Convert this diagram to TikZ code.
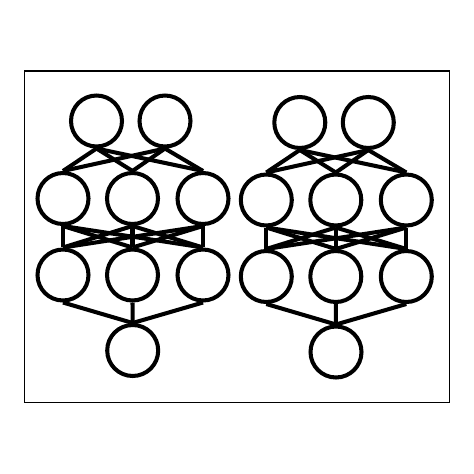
\documentclass[tikz,border=0pt]{standalone}
\usepackage{tikz}
\usetikzlibrary{calc}
\def\netsep{203.3}

\begin{document}
\begin{tikzpicture}[x=0.02cm,y=-0.02cm]
    \tikzstyle{neuron}=[circle,draw=black,fill=white,minimum size=1.02cm,inner sep=0pt,line width=2.3pt]
    \tikzstyle{link}=[line width=2.3pt]
    \tikzstyle{frame}=[line width=0.75pt]

    \useasboundingbox (0,0) rectangle (474,474);
    \draw[frame] (24.3,71) rectangle (449.5,402.5);

    \foreach \net / \dx / \dy in {A/0/0,B/\netsep/1.5}
    {
        % Draw the input layer nodes
        \foreach \name / \x in {1/96.5,2/165}
            \path node[neuron] (\net-I-\name) at (\x+\dx,121+\dy) {};

        % Draw the hidden layer nodes
        \foreach \name / \x in {1/63,2/132.5,3/203}
        {
            \path node[neuron] (\net-H-\name) at (\x+\dx,198.5+\dy) {};
            \path node[neuron] (\net-G-\name) at (\x+\dx,275+\dy) {};
        }

        % Draw the output node
        \path node[neuron] (\net-O-1) at (132.7+\dx,350.5+\dy) {};

        % Connect the layers
        \foreach \s in {1,2}
            \foreach \d in {1,2,3}
                \draw[link] (\net-I-\s.south) -- (\net-H-\d.north);
        \foreach \s in {1,2,3}
            \foreach \d in {1,2,3}
                \draw[link] (\net-H-\s.south) -- (\net-G-\d.north);
        \foreach \s in {1,2,3}
            \draw[link] (\net-G-\s.south) -- (\net-O-1.north);
    }
\end{tikzpicture}
\end{document}
